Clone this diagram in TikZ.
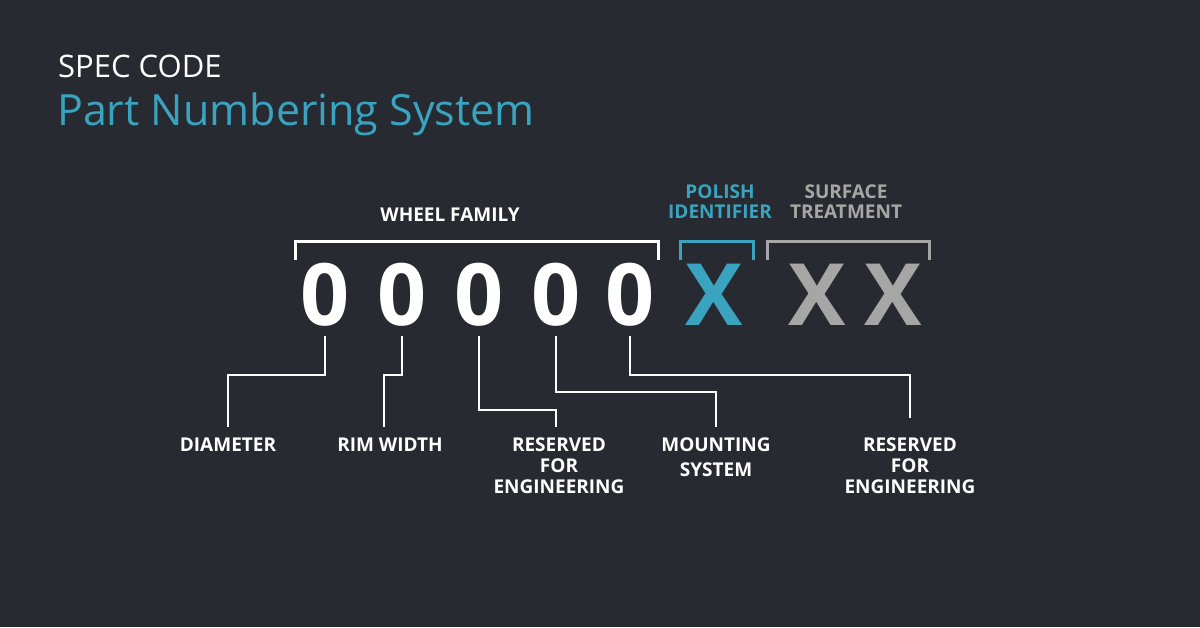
\documentclass[tikz,border=0pt]{standalone}
\usepackage{fontspec}
\setmainfont{Open Sans}
\usetikzlibrary{positioning}
\definecolor{bgdark}{HTML}{272A30}
\definecolor{teal}{HTML}{3AA3BF}
\definecolor{greyx}{HTML}{A6A6A6}

\begin{document}
\begin{tikzpicture}[x=1pt,y=-1pt,
  digit/.style={font=\fontsize{86}{86}\selectfont\bfseries, text=white, inner sep=0pt, text depth=0pt, anchor=base},
  tag/.style={font=\fontsize{19}{21}\selectfont\bfseries, text=white, align=center, anchor=north, inner xsep=0pt, inner ysep=11pt},
  head/.style={font=\fontsize{19}{20}\selectfont\bfseries, align=center, inner sep=0pt},
  leader/.style={draw=white, line width=2.4pt},
  brace/.style={line width=3pt}]
\fill[bgdark] (0,0) rectangle (1200,627);

% Title
\node[anchor=base west, inner sep=0pt, text=white, font=\fontsize{31}{31}\selectfont] (spec) at (58,77) {SPEC CODE};
\node[anchor=base west, inner sep=0pt, text=teal, font=\fontsize{43}{43}\selectfont] (title) at (57,125) {Part Numbering System};

% Code digits
\node[digit] (d1) at (325,325) {0};
\node[digit] (d2) at (402,325) {0};
\node[digit] (d3) at (479,325) {0};
\node[digit] (d4) at (556,325) {0};
\node[digit] (d5) at (630,325) {0};
\node[digit, text=teal] (x1) at (714,325) {X};
\node[digit, text=greyx] (x2) at (817,325) {X};
\node[digit, text=greyx] (x3) at (893,325) {X};

% Brackets and headings
\draw[brace, white] (295,260) |- (658,241) -- (658,260);
\draw[brace, teal] (680,260) |- (753,241) -- (753,260);
\draw[brace, greyx] (767,260) |- (929,241) -- (929,260);
\node[head, text=white] (wf) at (450,215) {WHEEL FAMILY};
\node[head, text=teal] (pol) at (720,202) {POLISH\\IDENTIFIER};
\node[head, text=greyx] (surf) at (846,202) {SURFACE\\TREATMENT};

% Labels
\node[tag] (dia) at (228,427) {DIAMETER};
\node[tag] (rim) at (390,427) {RIM WIDTH};
\node[tag] (res1) at (559,427) {RESERVED\\FOR\\ENGINEERING};
\node[tag] (mnt) at (716,427) {MOUNTING\\[4pt]SYSTEM};
\node[tag] (res2) at (910,427) {RESERVED\\FOR\\ENGINEERING};

% Leaders
\draw[leader] ([yshift=-11]d1.south) -- ++(0,39) -| (dia.north);
\draw[leader] ([yshift=-11]d2.south) -- ++(0,39) -| ([xshift=-6]rim.north);
\draw[leader] ([yshift=-11]d3.south) -- ++(0,74) -| ([xshift=-3]res1.north);
\draw[leader] ([yshift=-11]d4.south) -- ++(0,56) -| (mnt.north);
\draw[leader] ([yshift=-11]d5.south) -- ++(0,39) -| ([yshift=9]res2.north);
\end{tikzpicture}
\end{document}
